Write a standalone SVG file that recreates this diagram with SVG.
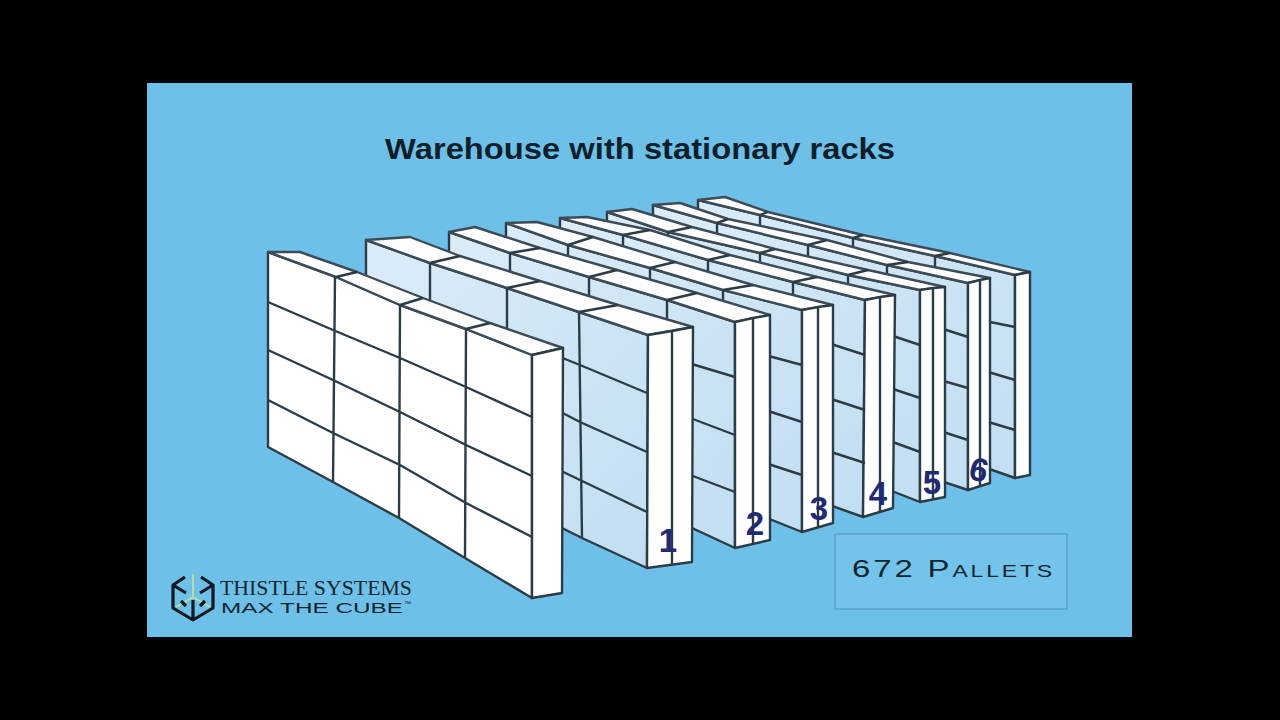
<svg xmlns="http://www.w3.org/2000/svg" width="1280" height="720" viewBox="0 0 1280 720">
<defs>
<linearGradient id="sideFill" x1="0" y1="0" x2="1" y2="1"><stop offset="0" stop-color="#dcecf8"/><stop offset="1" stop-color="#c2def2"/></linearGradient>
<filter id="soft" x="-2%" y="-2%" width="104%" height="104%"><feGaussianBlur stdDeviation="0.6"/></filter>
</defs>
<style>
.s{fill:url(#sideFill);stroke:#2c3c47;stroke-width:2.4;stroke-linejoin:round}
.w{fill:#fff;stroke:#2c3c47;stroke-width:2.4;stroke-linejoin:round}
.l{fill:none;stroke:#2c3c47;stroke-width:2.4}
.t{fill:#fdfdfe;stroke:#3c4c57;stroke-width:2.4;stroke-linejoin:round}
.n{font-family:"Liberation Sans",Arial,sans-serif;font-weight:700;font-size:33px;fill:#232a72;text-anchor:middle}
</style>
<rect width="1280" height="720" fill="#000"/>
<rect x="147" y="83" width="985" height="554" fill="#6fc0e9"/>
<text x="640" y="159" font-family="'Liberation Sans',Arial,sans-serif" font-weight="700" font-size="30px" fill="#0c1f2b" text-anchor="middle" textLength="510" lengthAdjust="spacingAndGlyphs">Warehouse with stationary racks</text>
<g filter="url(#soft)">
<g id="rack-7">
<polygon class="s" points="698,200 760,215 853,238 935,256 1015,275 1015,478 698,367"/>
<polygon class="t" points="698,200 725,197 768,212 863,235 950,253 1030,272 1015,275 935,256 853,238 760,215"/>
<polygon class="w" points="1015,275 1030,272 1030,475 1015,478"/>
<path class="l" d="M760,215L768,212M853,238L863,235M935,256L950,253M760,215V400M853,238V400M935,256V400M985,321L1015,327M985,371L1015,380M985,421L1015,430"/>
</g>
<g id="rack-6">
<polygon class="s" points="653,205 717,223 808,245 887,265 968,283 968,490 653,386"/>
<polygon class="t" points="653,205 680,203 728,219 827,240 908,262 990,278 968,283 887,265 808,245 717,223"/>
<polygon class="w" points="968,283 980,280 990,278 990,483 968,490"/>
<path class="l" d="M717,223L728,219M808,245L827,240M887,265L908,262M717,223V400M808,245V400M887,265V400M980,280V486M940,328L968,337M940,380L968,388M940,431L968,440"/>
</g>
<g id="rack-5">
<polygon class="s" points="607,212 668,232 760,253 848,275 920,290 920,502 607,380"/>
<polygon class="t" points="607,212 632,209 692,227 775,249 868,270 945,287 920,290 848,275 760,253 668,232"/>
<polygon class="w" points="920,290 933,288 945,287 945,497 920,502"/>
<path class="l" d="M668,232L692,227M760,253L775,249M848,275L868,270M668,232V400M760,253V400M848,275V400M933,288V499M890,335L920,345M890,388L920,398M890,441L920,452"/>
</g>
<g id="rack-4">
<polygon class="s" points="560,218 623,235 708,260 793,282 865,300 863,517 560,408"/>
<polygon class="t" points="560,218 587,217 650,230 730,255 817,277 895,295 865,300 793,282 708,260 623,235"/>
<polygon class="w" points="865,300 880,297 895,295 893,508 863,517"/>
<path class="l" d="M623,235L650,230M708,260L730,255M793,282L817,277M623,235V400M708,260V400M793,282V400M880,297V512M828,343L865,355M828,398L865,410M828,451L865,463"/>
</g>
<g id="rack-3">
<polygon class="s" points="506,223 568,245 650,268 723,290 802,310 802,532 506,414"/>
<polygon class="t" points="506,223 537,222 593,237 675,262 753,285 833,305 802,310 723,290 650,268 568,245"/>
<polygon class="w" points="802,310 818,307 833,305 833,523 802,532"/>
<path class="l" d="M568,245L593,237M650,268L675,262M723,290L753,285M568,245V400M650,268V400M723,290V400M818,307V527M765,355L802,365M765,410L802,422M765,463L802,475"/>
</g>
<g id="rack-2">
<polygon class="s" points="449,232 510,253 589,277 667,300 735,322 735,548 449,415"/>
<polygon class="t" points="449,232 475,227 540,248 617,270 697,293 770,315 735,322 667,300 589,277 510,253"/>
<polygon class="w" points="735,322 753,318 770,315 770,540 735,548"/>
<path class="l" d="M510,253L540,248M589,277L617,270M667,300L697,293M510,253V400M589,277V400M667,300V400M753,318V544M685,362L735,377M685,416L735,435M685,473L735,492"/>
</g>
<g id="rack-1">
<polygon class="s" points="366,240 430,263 507,288 579,312 648,335 647,568 582,538 366,430"/>
<polygon class="t" points="366,240 410,237 460,256 540,281 618,305 693,327 648,335 579,312 507,288 430,263"/>
<polygon class="w" points="648,335 672,331 693,327 692,562 647,568"/>
<path class="l" d="M430,263L460,256M507,288L540,281M579,312L618,305M430,263V400M507,288V400M579,312L582,538M672,331V564M555,355L580,365L647,393M555,409L580,422L647,452M555,468L580,480L647,512"/>
</g>
<g id="rack-0">
<polygon class="w" points="268,252 336,277 400,305 466,329 532,355 532,598 465,558 399,518 333,482 268,447"/>
<polygon class="t" points="268,252 300,252 357,272 423,298 490,323 563,348 532,355 466,329 400,305 336,277"/>
<polygon class="w" points="532,355 563,348 562,593 532,598"/>
<path class="l" d="M336,277L357,272M400,305L423,298M466,329L490,323M335,277L333,482M400,305L399,518M466,329L465,558M268,302L333,330L400,358L466,387L532,417M268,350L333,380L400,412L466,445L532,476M268,400L333,433L400,465L466,503L532,537"/>
</g>
</g>
<g id="rack-numbers">
<text class="n" x="668" y="552">1</text>
<text class="n" x="755" y="535">2</text>
<text class="n" x="819" y="520">3</text>
<text class="n" x="878" y="505">4</text>
<text class="n" x="932" y="494">5</text>
<text class="n" x="979" y="481" transform="rotate(14 979 469)">6</text>
</g>
<g id="pallets-box">
<rect x="835" y="534" width="232" height="75" fill="#74c3ea" stroke="#4d93bd" stroke-width="1"/>
<text x="852" y="577" font-family="'Liberation Sans',Arial,sans-serif" font-size="23px" letter-spacing="2" fill="#12262f" style="font-variant:small-caps" textLength="203" lengthAdjust="spacingAndGlyphs">672 Pallets</text>
</g>
<g id="logo">
<path d="M193,574V597M193,597L176,607M193,597L210,607" fill="none" stroke="#b9dca0" stroke-width="2"/>
<path d="M185,577L173,585V608L193,620L213,608V585L201,577M173,585L186,593M213,585L200,593M193,620V600M186,606L181,601M200,606L205,601" fill="none" stroke="#0d1a22" stroke-width="3.2" stroke-linejoin="round"/>
<text x="220" y="595" font-family="'Liberation Serif','Times New Roman',serif" font-size="21.5px" fill="#13262f" textLength="192" lengthAdjust="spacingAndGlyphs">THISTLE SYSTEMS</text>
<text x="221" y="613" font-family="'Liberation Sans',Arial,sans-serif" font-size="15px" fill="#13262f" textLength="182" lengthAdjust="spacingAndGlyphs">MAX THE CUBE</text>
<text x="404" y="606" font-family="'Liberation Sans',Arial,sans-serif" font-size="7px" fill="#13262f">™</text>
</g>
</svg>
